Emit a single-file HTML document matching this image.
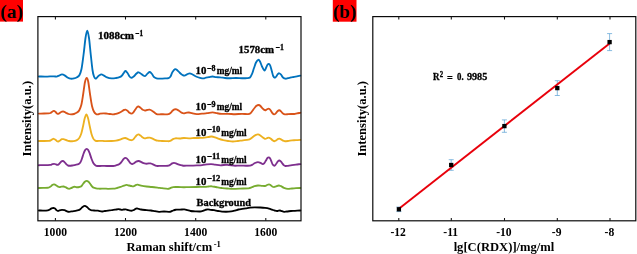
<!DOCTYPE html>
<html><head><meta charset="utf-8"><title>Figure</title>
<style>
html,body{margin:0;padding:0;background:#fff;}
body{width:637px;height:254px;overflow:hidden;}
svg{display:block;}
text{font-family:"Liberation Serif",serif;font-weight:bold;fill:#000;}
.tk{font-size:11.6px;text-anchor:middle;}
.ax{font-size:12.6px;text-anchor:middle;}
.lb{font-size:9.45px;stroke:#000;stroke-width:0.3px;}
.sup{font-size:7.5px;}
.r2{font-size:10.4px;stroke-width:0.3px;}
.sp2{font-size:8.6px;}
.pl{font-size:20px;}
</style></head><body>
<svg width="637" height="254" viewBox="0 0 637 254">
<rect width="637" height="254" fill="#fff"/>

<rect x="0" y="0" width="23.0" height="21.6" fill="#ff0000"/>
<text class="pl" x="0.5" y="17.5" style="font-size:19.6px">(a)</text>
<rect x="332.8" y="0" width="23.7" height="21.7" fill="#ff0000"/>
<text class="pl" x="333.3" y="17.6" style="font-size:19px">(b)</text>
<path d="M38.9,76.5C39.9,76.5 43.1,76.6 45.0,76.6C46.9,76.6 48.5,76.5 50.0,76.4C51.5,76.4 52.9,76.3 54.0,76.3C55.1,76.3 55.7,76.7 56.5,76.6C57.3,76.5 58.1,76.0 59.0,75.6C59.9,75.2 61.0,74.4 62.0,74.4C63.0,74.4 64.0,75.0 65.0,75.6C66.0,76.2 67.1,77.3 68.0,77.8C68.9,78.3 69.6,78.6 70.6,78.7C71.6,78.8 72.9,78.7 74.0,78.4C75.1,78.2 76.1,77.8 77.0,77.2C77.9,76.6 78.8,76.4 79.5,75.0C80.2,73.6 80.8,72.3 81.5,69.0C82.2,65.7 82.8,60.2 83.5,55.0C84.2,49.8 84.9,42.0 85.5,38.0C86.1,34.0 86.7,30.7 87.3,30.7C87.9,30.7 88.4,34.0 89.0,38.0C89.6,42.0 90.2,49.7 90.8,55.0C91.4,60.3 92.0,66.4 92.5,70.0C93.0,73.6 93.5,75.1 94.0,76.5C94.5,77.9 95.0,78.4 95.5,78.6C96.0,78.8 96.4,78.1 97.0,77.6C97.6,77.1 98.3,76.1 99.0,75.6C99.7,75.1 100.6,74.4 101.4,74.4C102.2,74.4 103.1,75.1 104.0,75.6C104.9,76.1 105.7,76.9 107.0,77.4C108.3,77.9 110.1,78.3 111.6,78.4C113.1,78.5 114.7,78.2 116.0,78.0C117.3,77.8 118.5,77.6 119.5,77.2C120.5,76.8 121.2,76.3 122.0,75.5C122.8,74.7 123.4,73.3 124.0,72.6C124.6,71.8 125.0,70.9 125.6,71.0C126.2,71.1 126.8,72.1 127.5,73.0C128.2,73.9 128.8,75.7 129.5,76.5C130.2,77.3 131.1,77.8 131.8,77.7C132.6,77.7 133.2,76.9 134.0,76.2C134.8,75.5 135.7,74.2 136.5,73.5C137.3,72.8 137.8,72.2 138.6,72.3C139.3,72.3 140.2,73.2 141.0,73.8C141.8,74.3 142.8,75.2 143.5,75.6C144.2,76.0 144.5,76.3 145.2,76.0C145.9,75.7 146.7,74.3 147.5,73.6C148.3,72.9 149.1,71.9 149.8,72.0C150.6,72.1 151.3,73.2 152.0,74.0C152.7,74.8 153.2,76.3 154.0,77.0C154.8,77.7 155.5,78.0 156.5,78.3C157.5,78.6 158.6,78.6 160.0,78.6C161.4,78.6 163.6,78.5 165.0,78.4C166.4,78.3 167.6,78.5 168.5,78.2C169.4,77.9 169.8,77.5 170.5,76.5C171.2,75.5 171.7,73.2 172.5,72.0C173.3,70.8 174.3,69.5 175.1,69.2C175.9,68.9 176.7,69.8 177.5,70.4C178.3,71.0 179.2,72.2 180.0,73.0C180.8,73.8 181.7,74.6 182.5,75.0C183.3,75.4 183.8,75.7 184.6,75.6C185.3,75.5 186.1,74.7 187.0,74.3C187.9,73.9 188.9,73.3 189.8,73.3C190.7,73.3 191.5,74.0 192.5,74.5C193.5,75.0 194.8,76.0 196.0,76.5C197.2,77.0 198.8,77.5 200.0,77.8C201.2,78.1 202.5,78.4 203.5,78.4C204.5,78.4 205.1,77.8 206.0,77.6C206.9,77.4 207.9,77.4 209.0,77.2C210.1,77.0 211.4,76.5 212.6,76.5C213.8,76.5 214.8,77.1 216.0,77.2C217.2,77.3 218.5,77.2 220.0,77.3C221.5,77.4 223.3,77.8 225.0,78.0C226.7,78.2 228.2,78.2 230.0,78.2C231.8,78.2 234.0,78.0 236.0,78.0C238.0,78.0 240.2,78.2 242.0,78.2C243.8,78.2 245.7,78.3 247.0,78.2C248.3,78.1 249.2,78.2 250.0,77.5C250.8,76.8 251.3,75.6 252.0,74.0C252.7,72.4 253.3,69.9 254.0,68.0C254.7,66.1 255.3,63.9 256.0,62.5C256.7,61.1 257.5,60.0 258.2,59.8C258.9,59.6 259.4,60.4 260.0,61.5C260.6,62.6 261.3,65.0 262.0,66.5C262.7,68.0 263.6,70.2 264.3,70.5C265.0,70.8 265.5,69.0 266.0,68.0C266.5,67.0 267.0,65.5 267.5,64.8C268.0,64.1 268.4,63.8 268.9,63.9C269.3,64.0 269.7,64.3 270.2,65.5C270.7,66.7 271.3,69.2 271.8,71.0C272.3,72.8 272.7,74.9 273.2,76.0C273.7,77.1 274.2,77.6 274.7,77.7C275.2,77.8 275.8,77.1 276.3,76.5C276.8,75.9 277.3,74.7 277.8,74.2C278.3,73.7 278.8,73.2 279.3,73.3C279.8,73.3 280.4,73.8 281.0,74.5C281.6,75.2 282.2,76.8 283.0,77.5C283.8,78.2 284.7,78.6 285.5,78.7C286.3,78.8 287.1,78.4 288.0,78.2C288.9,78.0 290.0,77.6 291.0,77.4C292.0,77.2 293.2,77.0 294.2,76.8C295.2,76.6 296.0,76.6 297.0,76.4C298.0,76.2 299.8,75.8 300.3,75.7" fill="none" stroke="#0072BD" stroke-width="1.85" stroke-linejoin="round" stroke-linecap="round"/>
<path d="M38.9,113.6C39.8,113.6 42.5,113.5 44.0,113.5C45.5,113.5 46.9,113.5 48.0,113.4C49.1,113.3 49.8,113.3 50.5,113.0C51.2,112.7 51.8,112.0 52.3,111.6C52.8,111.2 53.3,110.8 53.8,110.8C54.3,110.8 55.0,111.3 55.5,111.8C56.0,112.2 56.5,113.2 57.0,113.5C57.5,113.8 57.8,114.0 58.3,113.9C58.8,113.8 59.4,113.2 60.0,112.8C60.6,112.4 61.4,111.9 62.0,111.7C62.6,111.5 63.1,111.4 63.8,111.6C64.5,111.8 65.2,112.4 66.0,112.8C66.8,113.2 67.7,113.7 68.5,114.0C69.3,114.3 70.1,114.4 71.0,114.4C71.9,114.4 73.0,114.3 74.0,114.0C75.0,113.7 76.1,113.2 77.0,112.6C77.9,112.0 78.6,111.5 79.3,110.2C80.0,108.9 80.6,107.7 81.3,105.0C82.0,102.3 82.6,97.8 83.2,94.0C83.8,90.2 84.4,84.7 85.0,82.0C85.6,79.3 86.2,77.8 86.7,77.8C87.2,77.8 87.8,79.3 88.3,82.0C88.8,84.7 89.4,90.0 90.0,94.0C90.6,98.0 91.3,103.0 92.0,106.0C92.7,109.0 93.3,110.5 94.0,111.8C94.7,113.1 95.4,113.6 96.0,114.0C96.6,114.4 97.1,114.5 97.8,114.4C98.5,114.3 99.0,113.8 100.0,113.6C101.0,113.4 102.5,113.3 103.7,113.3C104.9,113.3 106.0,113.5 107.0,113.6C108.0,113.7 109.0,113.9 110.0,114.0C111.0,114.1 112.2,114.4 113.2,114.4C114.2,114.4 115.0,114.1 116.0,113.8C117.0,113.5 118.0,113.2 119.0,112.8C120.0,112.4 121.2,111.7 122.0,111.2C122.8,110.7 123.4,110.2 124.0,110.0C124.6,109.8 124.9,109.6 125.5,109.7C126.1,109.8 126.8,110.3 127.5,110.8C128.2,111.3 128.8,112.3 129.5,112.8C130.2,113.3 130.9,113.6 131.5,113.6C132.1,113.6 132.6,113.2 133.2,112.6C133.8,112.0 134.4,110.9 135.0,110.0C135.6,109.1 136.4,107.8 137.0,107.2C137.6,106.6 138.0,106.4 138.6,106.5C139.2,106.6 139.8,107.2 140.5,107.8C141.2,108.3 142.1,109.3 142.8,109.8C143.5,110.2 144.2,110.5 144.9,110.5C145.6,110.5 146.2,110.1 147.0,110.0C147.8,109.9 148.8,109.6 149.6,109.7C150.4,109.8 151.1,110.2 152.0,110.8C152.9,111.3 154.1,112.4 155.0,113.0C155.9,113.6 156.5,114.2 157.5,114.4C158.5,114.6 159.8,114.2 161.0,114.2C162.2,114.2 163.8,114.3 165.0,114.3C166.2,114.3 167.6,114.3 168.5,114.1C169.4,113.9 169.8,113.5 170.5,113.0C171.2,112.5 171.8,111.4 172.5,110.8C173.2,110.2 173.8,109.7 174.5,109.4C175.2,109.2 175.8,109.1 176.5,109.3C177.2,109.5 178.2,110.2 179.0,110.8C179.8,111.3 180.7,112.2 181.5,112.6C182.3,113.0 183.1,113.3 183.8,113.3C184.6,113.3 185.1,112.9 186.0,112.8C186.9,112.7 188.0,112.4 189.0,112.5C190.0,112.6 190.7,112.9 192.0,113.2C193.3,113.5 195.2,114.0 196.9,114.1C198.6,114.2 200.3,113.8 202.0,113.7C203.7,113.6 205.2,113.4 207.0,113.2C208.8,113.0 210.9,112.4 212.6,112.4C214.3,112.4 215.5,113.0 217.0,113.2C218.5,113.5 219.9,113.8 221.7,113.9C223.5,114.0 225.8,113.8 228.0,113.8C230.2,113.8 232.7,114.2 235.0,114.2C237.3,114.2 239.8,113.9 242.0,113.9C244.2,113.9 246.6,114.2 248.0,114.1C249.4,114.0 249.8,113.8 250.5,113.2C251.2,112.7 251.8,111.7 252.5,110.8C253.2,109.9 253.8,108.8 254.5,108.0C255.2,107.2 255.8,106.3 256.5,105.8C257.2,105.3 257.9,105.0 258.6,105.0C259.3,105.0 259.9,105.4 260.5,106.0C261.1,106.6 261.8,107.7 262.5,108.4C263.2,109.1 264.1,110.0 264.8,110.2C265.5,110.4 265.9,109.9 266.5,109.6C267.1,109.3 268.1,108.6 268.7,108.6C269.3,108.6 269.8,109.1 270.3,109.8C270.9,110.5 271.4,111.8 272.0,112.6C272.6,113.4 273.4,114.3 274.0,114.4C274.6,114.5 275.2,113.9 275.8,113.4C276.4,112.9 276.9,111.7 277.5,111.2C278.1,110.7 278.6,110.2 279.2,110.2C279.8,110.2 280.4,110.7 281.0,111.3C281.6,111.9 282.3,113.1 283.0,113.6C283.7,114.1 284.2,114.3 285.0,114.4C285.8,114.5 287.0,114.3 288.0,114.2C289.0,114.1 290.0,114.0 291.0,114.0C292.0,114.0 293.2,114.1 294.2,114.0C295.2,113.9 296.0,113.6 297.0,113.4C298.0,113.2 299.8,112.9 300.3,112.8" fill="none" stroke="#D95319" stroke-width="1.85" stroke-linejoin="round" stroke-linecap="round"/>
<path d="M38.9,141.0C39.8,141.0 42.3,141.0 44.0,141.0C45.7,141.0 47.8,141.0 49.0,140.9C50.2,140.8 50.4,140.5 51.0,140.2C51.6,139.9 52.0,139.4 52.5,139.2C53.0,139.0 53.3,138.7 53.8,138.8C54.3,138.9 55.0,139.4 55.5,139.8C56.0,140.2 56.5,140.9 57.0,141.2C57.5,141.5 57.7,141.6 58.2,141.5C58.7,141.4 59.4,140.8 60.0,140.4C60.6,140.0 61.4,139.4 62.0,139.2C62.6,139.0 62.8,139.0 63.5,139.1C64.2,139.2 65.1,139.7 66.0,140.0C66.9,140.3 68.0,140.8 69.0,141.0C70.0,141.2 71.2,141.2 72.2,141.2C73.2,141.2 74.1,141.0 75.0,140.8C75.9,140.6 76.8,140.3 77.5,139.8C78.2,139.3 78.9,138.7 79.5,137.6C80.1,136.5 80.7,135.3 81.3,133.5C81.9,131.7 82.4,129.1 83.0,126.5C83.6,123.9 84.2,120.0 84.8,118.0C85.4,116.0 85.9,114.4 86.4,114.4C86.9,114.4 87.4,116.0 88.0,118.0C88.6,120.0 89.2,123.8 89.8,126.5C90.4,129.2 90.9,132.0 91.5,134.0C92.1,136.0 92.7,137.5 93.3,138.6C93.9,139.7 94.6,140.2 95.3,140.6C96.0,141.0 96.5,141.0 97.4,141.0C98.4,141.0 99.7,140.8 101.0,140.8C102.3,140.8 103.2,141.1 105.0,141.1C106.8,141.1 109.8,141.1 111.6,141.0C113.4,140.9 114.6,140.8 116.0,140.6C117.4,140.4 118.8,140.0 120.0,139.6C121.2,139.2 122.1,138.7 123.0,138.4C123.9,138.1 124.5,137.9 125.3,138.0C126.0,138.1 126.8,138.5 127.5,138.8C128.2,139.1 128.8,139.6 129.5,139.8C130.2,140.0 130.9,140.3 131.5,140.2C132.1,140.1 132.7,139.9 133.3,139.4C133.9,138.9 134.6,137.7 135.2,137.0C135.8,136.3 136.4,135.4 137.0,135.0C137.6,134.6 138.0,134.3 138.6,134.4C139.2,134.5 139.8,135.1 140.5,135.6C141.2,136.1 142.1,137.1 142.8,137.6C143.5,138.1 144.2,138.3 144.9,138.3C145.6,138.3 146.2,137.9 147.0,137.8C147.8,137.7 148.8,137.5 149.6,137.6C150.4,137.7 151.1,138.0 152.0,138.4C152.9,138.8 154.1,139.4 155.0,139.8C155.9,140.2 156.3,140.5 157.5,140.7C158.7,140.9 160.6,140.9 162.0,141.0C163.4,141.1 164.8,141.1 166.0,141.1C167.2,141.1 168.4,141.3 169.3,141.2C170.2,141.0 170.8,140.6 171.5,140.2C172.2,139.8 172.8,139.1 173.5,138.8C174.2,138.5 174.4,138.4 175.5,138.3C176.6,138.2 178.6,138.6 180.0,138.5C181.4,138.4 182.5,138.0 184.0,138.0C185.5,138.0 187.3,138.3 189.0,138.3C190.7,138.3 192.3,138.1 194.0,138.0C195.7,137.9 197.2,138.1 199.0,138.0C200.8,137.9 203.1,137.8 204.7,137.6C206.3,137.4 207.3,137.2 208.5,137.0C209.7,136.8 210.7,136.4 211.8,136.5C212.9,136.6 213.8,137.0 215.0,137.4C216.2,137.8 217.6,138.4 219.0,138.9C220.4,139.4 221.8,139.8 223.3,140.2C224.8,140.5 226.4,140.8 228.0,141.0C229.6,141.2 231.1,141.5 232.8,141.5C234.5,141.5 236.3,141.2 238.0,141.0C239.7,140.8 241.2,140.5 243.0,140.3C244.8,140.1 247.2,139.9 248.5,139.6C249.8,139.3 250.2,138.9 251.0,138.4C251.8,137.9 252.7,137.0 253.5,136.4C254.3,135.8 255.2,135.1 256.0,134.8C256.8,134.5 257.3,134.3 258.0,134.4C258.7,134.5 259.2,134.7 260.0,135.2C260.8,135.7 261.7,136.6 262.5,137.2C263.3,137.8 264.2,138.6 265.0,138.8C265.8,139.0 266.4,138.4 267.0,138.2C267.6,138.0 268.1,137.6 268.7,137.6C269.3,137.6 269.9,138.0 270.5,138.4C271.1,138.8 271.8,139.7 272.5,140.2C273.2,140.7 273.9,141.2 274.5,141.2C275.1,141.2 275.6,140.8 276.2,140.4C276.8,140.1 277.3,139.4 277.8,139.1C278.3,138.8 278.7,138.6 279.2,138.7C279.7,138.8 280.4,139.1 281.0,139.4C281.6,139.7 282.4,140.4 283.0,140.7C283.6,141.0 283.9,141.1 284.7,141.2C285.5,141.2 286.8,141.1 288.0,141.0C289.2,140.9 290.7,140.5 292.0,140.4C293.3,140.3 294.6,140.3 296.0,140.2C297.4,140.1 299.6,139.9 300.3,139.9" fill="none" stroke="#EDB120" stroke-width="1.85" stroke-linejoin="round" stroke-linecap="round"/>
<path d="M38.9,165.2C39.8,165.2 42.1,165.1 44.0,165.1C45.9,165.1 48.8,165.1 50.2,164.9C51.6,164.8 51.6,164.4 52.2,164.2C52.9,164.0 53.5,163.8 54.1,163.8C54.7,163.8 55.5,164.2 56.0,164.4C56.5,164.6 56.8,164.9 57.3,164.9C57.8,164.9 58.3,164.6 58.8,164.2C59.3,163.8 60.0,162.9 60.5,162.4C61.0,161.9 61.6,161.4 62.0,161.2C62.4,161.0 62.5,160.9 62.9,161.0C63.3,161.1 63.8,161.3 64.3,161.8C64.8,162.3 65.4,163.2 66.0,163.8C66.6,164.4 67.2,165.0 67.8,165.3C68.4,165.6 68.8,165.7 69.5,165.7C70.2,165.7 71.0,165.7 72.0,165.5C73.0,165.3 74.4,165.0 75.5,164.8C76.6,164.6 77.7,164.5 78.5,164.1C79.3,163.7 79.7,163.5 80.3,162.6C80.9,161.7 81.5,160.0 82.0,158.5C82.5,157.0 83.1,154.9 83.6,153.5C84.1,152.1 84.7,150.8 85.2,150.0C85.7,149.2 86.2,148.9 86.7,148.9C87.2,148.9 87.7,149.2 88.2,150.0C88.7,150.8 89.2,152.1 89.8,153.6C90.3,155.1 90.9,157.2 91.5,158.8C92.1,160.4 92.7,161.9 93.3,163.0C93.9,164.1 94.6,164.7 95.3,165.2C96.0,165.7 96.3,165.9 97.4,166.0C98.5,166.1 100.4,165.9 102.0,165.9C103.6,165.9 105.1,166.0 107.0,166.0C108.9,166.0 111.7,166.1 113.2,166.0C114.7,165.9 115.0,165.7 116.0,165.4C117.0,165.1 118.5,164.8 119.5,164.1C120.5,163.4 121.1,162.4 121.8,161.5C122.5,160.6 123.1,159.4 123.7,158.8C124.3,158.2 124.9,157.8 125.4,157.8C126.0,157.8 126.4,158.1 127.0,158.6C127.6,159.1 128.2,160.2 128.8,161.0C129.4,161.8 130.1,162.9 130.7,163.4C131.3,163.9 131.8,164.1 132.3,164.1C132.9,164.1 133.3,163.6 134.0,163.2C134.7,162.8 135.4,162.0 136.2,161.6C137.0,161.2 137.8,160.9 138.6,161.0C139.4,161.1 140.2,161.5 141.0,161.9C141.8,162.3 142.7,162.9 143.5,163.2C144.3,163.5 144.9,163.6 145.7,163.7C146.4,163.8 147.2,163.6 148.0,163.5C148.8,163.4 149.6,163.2 150.4,163.4C151.2,163.6 152.2,164.0 153.0,164.4C153.8,164.8 154.8,165.3 155.5,165.6C156.2,165.9 156.4,166.0 157.5,166.0C158.6,166.0 160.6,165.8 162.0,165.8C163.4,165.8 164.9,165.9 166.0,165.9C167.1,165.9 167.8,165.9 168.5,165.7C169.2,165.5 169.7,165.2 170.3,164.8C170.9,164.4 171.6,163.6 172.2,163.3C172.8,163.0 173.4,162.9 174.0,162.9C174.6,162.9 175.2,163.1 176.0,163.4C176.8,163.7 178.0,164.3 179.0,164.6C180.0,164.9 181.1,165.2 182.0,165.4C182.9,165.6 183.0,165.7 184.3,165.7C185.6,165.7 187.9,165.6 190.0,165.6C192.1,165.6 194.9,165.5 196.9,165.4C198.9,165.3 200.3,165.3 202.0,165.1C203.7,164.9 205.5,164.6 207.0,164.4C208.5,164.2 209.7,164.1 211.0,164.1C212.3,164.1 213.4,164.4 215.0,164.6C216.6,164.8 218.7,165.4 220.5,165.4C222.3,165.4 224.6,164.7 226.0,164.7C227.4,164.7 227.7,165.0 229.0,165.2C230.3,165.4 232.2,165.6 234.0,165.7C235.8,165.8 238.0,165.6 240.0,165.6C242.0,165.6 244.3,165.7 246.0,165.7C247.7,165.7 248.9,165.8 250.0,165.6C251.1,165.4 251.7,165.0 252.5,164.6C253.3,164.2 254.1,163.4 255.0,163.0C255.9,162.6 257.1,162.1 258.0,162.1C258.9,162.1 259.7,162.6 260.5,162.9C261.3,163.2 262.1,164.1 262.7,164.1C263.3,164.1 263.8,163.8 264.3,163.2C264.8,162.6 265.3,161.6 265.8,160.8C266.3,160.0 266.8,158.8 267.3,158.2C267.8,157.6 268.2,157.4 268.7,157.4C269.1,157.4 269.6,157.7 270.0,158.3C270.4,158.9 270.9,160.2 271.3,161.2C271.7,162.2 272.2,163.6 272.6,164.3C273.1,165.1 273.5,165.6 274.0,165.7C274.5,165.8 275.0,165.3 275.5,164.8C276.0,164.3 276.5,163.2 277.0,162.6C277.5,161.9 277.9,161.2 278.3,160.9C278.7,160.6 278.9,160.4 279.3,160.5C279.7,160.6 280.3,160.9 280.8,161.4C281.3,161.9 282.0,162.9 282.5,163.6C283.0,164.3 283.5,165.0 284.0,165.4C284.5,165.8 284.8,165.9 285.5,166.0C286.2,166.1 286.9,165.9 288.0,165.8C289.1,165.7 290.7,165.4 292.0,165.2C293.3,165.0 294.6,164.8 296.0,164.6C297.4,164.4 299.6,164.2 300.3,164.1" fill="none" stroke="#7E2F8E" stroke-width="1.85" stroke-linejoin="round" stroke-linecap="round"/>
<path d="M38.9,188.0C39.6,188.0 41.4,188.0 43.0,187.9C44.6,187.8 47.4,187.8 48.6,187.6C49.9,187.4 49.9,187.0 50.5,186.6C51.1,186.2 51.7,185.4 52.3,185.0C52.9,184.6 53.5,184.3 54.1,184.4C54.7,184.5 55.4,184.9 56.0,185.3C56.6,185.7 57.4,186.4 58.0,186.7C58.6,187.0 59.0,187.1 59.6,187.1C60.2,187.1 60.8,186.8 61.5,186.7C62.2,186.6 62.9,186.4 63.6,186.5C64.3,186.6 64.8,186.9 65.5,187.2C66.2,187.5 66.9,188.1 67.5,188.4C68.1,188.7 68.5,188.8 69.1,188.8C69.7,188.8 70.2,188.5 71.0,188.2C71.8,187.9 72.9,187.0 73.8,186.8C74.7,186.6 75.6,187.2 76.5,187.2C77.4,187.2 78.5,187.2 79.3,187.0C80.1,186.8 80.7,186.7 81.3,186.2C81.9,185.7 82.4,184.7 83.0,184.0C83.6,183.3 84.2,182.3 84.8,181.8C85.4,181.3 86.1,180.8 86.7,180.8C87.3,180.8 87.9,181.3 88.5,181.8C89.1,182.3 89.7,183.2 90.3,184.0C90.9,184.8 91.5,185.8 92.0,186.4C92.5,187.0 92.8,187.3 93.5,187.6C94.2,187.9 95.1,188.1 96.0,188.3C96.9,188.5 97.7,188.6 99.0,188.7C100.3,188.8 102.5,188.6 104.0,188.6C105.5,188.6 106.5,188.8 108.0,188.8C109.5,188.8 111.7,188.8 113.2,188.7C114.7,188.6 115.8,188.3 117.0,188.0C118.2,187.7 119.3,187.3 120.5,186.9C121.7,186.5 123.0,185.9 124.0,185.6C125.0,185.3 125.8,184.9 126.6,184.9C127.4,184.9 128.2,185.3 129.0,185.5C129.8,185.7 130.7,185.8 131.3,186.0C131.9,186.2 132.3,186.4 132.8,186.4C133.3,186.4 133.9,186.1 134.5,185.8C135.1,185.6 135.6,185.1 136.2,184.9C136.8,184.7 137.0,184.6 137.8,184.7C138.6,184.8 139.6,185.3 141.0,185.6C142.4,185.9 144.7,186.3 146.5,186.5C148.3,186.7 150.2,186.8 152.0,187.0C153.8,187.2 155.8,187.4 157.5,187.6C159.2,187.8 160.3,188.0 162.0,188.2C163.7,188.4 166.3,188.8 167.7,188.8C169.1,188.8 169.6,188.3 170.5,188.0C171.4,187.7 171.9,187.3 173.2,187.1C174.4,186.9 176.2,187.0 178.0,187.0C179.8,187.0 182.2,187.2 184.0,187.2C185.8,187.2 187.0,187.1 189.0,187.1C191.0,187.1 193.4,187.1 196.0,187.0C198.6,186.9 202.6,186.9 204.7,186.8C206.8,186.7 207.3,186.6 208.5,186.5C209.7,186.4 210.6,186.2 211.8,186.3C213.1,186.4 214.3,186.7 216.0,187.0C217.7,187.3 219.9,187.8 221.7,188.0C223.5,188.2 225.2,188.4 227.0,188.5C228.8,188.6 230.6,188.8 232.8,188.8C235.0,188.8 237.4,188.7 240.0,188.6C242.6,188.5 246.6,188.5 248.5,188.3C250.4,188.1 250.5,187.8 251.5,187.4C252.5,187.1 253.4,186.5 254.5,186.2C255.6,185.9 256.8,185.6 258.0,185.5C259.2,185.4 260.3,185.7 261.5,185.8C262.7,185.9 264.1,186.1 265.0,186.0C265.9,185.9 266.3,185.3 267.0,185.0C267.7,184.7 268.4,184.4 269.0,184.4C269.6,184.4 270.1,184.8 270.7,185.2C271.3,185.6 271.9,186.3 272.5,186.6C273.1,186.9 273.4,187.1 274.0,187.1C274.6,187.1 275.2,186.7 276.0,186.4C276.8,186.1 278.0,185.5 278.8,185.5C279.6,185.5 280.1,185.8 281.0,186.2C281.9,186.6 282.9,187.4 284.0,187.8C285.1,188.2 286.6,188.7 287.9,188.8C289.2,188.9 290.6,188.6 292.0,188.5C293.4,188.4 294.6,188.3 296.0,188.2C297.4,188.1 299.6,188.0 300.3,188.0" fill="none" stroke="#77AC30" stroke-width="1.85" stroke-linejoin="round" stroke-linecap="round"/>
<path d="M38.9,210.5C39.6,210.5 41.5,210.6 43.0,210.6C44.5,210.6 46.7,210.6 47.8,210.4C48.9,210.2 49.2,209.9 49.8,209.6C50.4,209.2 51.0,208.6 51.6,208.3C52.2,208.0 52.7,207.8 53.3,207.8C53.9,207.9 54.4,208.2 55.0,208.6C55.6,209.0 56.2,210.0 56.7,210.4C57.2,210.8 57.5,211.0 58.0,211.0C58.5,211.0 58.8,210.5 59.5,210.3C60.2,210.1 61.2,209.9 62.0,209.9C62.8,209.9 63.7,210.0 64.5,210.2C65.3,210.4 66.2,211.0 67.0,211.3C67.8,211.6 68.3,211.8 69.1,211.8C69.9,211.8 70.9,211.6 72.0,211.4C73.1,211.2 74.4,211.1 75.5,210.9C76.6,210.7 77.7,210.5 78.5,210.2C79.3,209.9 79.8,209.5 80.5,209.0C81.2,208.5 81.8,207.5 82.5,207.0C83.2,206.5 84.0,205.9 84.8,205.9C85.5,205.9 86.3,206.5 87.0,207.0C87.7,207.5 88.3,208.5 89.0,209.0C89.7,209.5 90.3,209.9 91.1,210.2C91.9,210.4 92.8,210.4 94.0,210.5C95.2,210.6 96.7,210.5 98.0,210.7C99.3,210.9 100.9,211.4 102.1,211.5C103.3,211.6 104.0,211.2 105.0,211.0C106.0,210.8 106.9,210.7 108.0,210.6C109.1,210.5 110.4,210.3 111.6,210.2C112.8,210.0 113.8,209.9 115.0,209.7C116.2,209.5 117.8,209.1 118.7,209.1C119.6,209.1 119.8,209.4 120.3,209.5C120.8,209.6 121.2,209.9 121.8,209.9C122.4,209.9 123.1,209.6 123.8,209.5C124.5,209.4 125.0,209.3 125.8,209.4C126.6,209.5 127.6,210.0 128.5,210.2C129.4,210.4 130.5,210.7 131.3,210.7C132.1,210.7 132.7,210.4 133.5,210.1C134.3,209.8 135.2,208.8 136.0,208.6C136.8,208.4 137.2,208.5 138.0,208.7C138.8,208.8 139.6,209.2 141.0,209.5C142.4,209.8 144.8,210.0 146.5,210.2C148.2,210.4 149.6,210.3 151.0,210.5C152.4,210.7 153.7,211.0 155.0,211.2C156.3,211.4 157.5,211.8 159.0,211.8C160.5,211.9 162.3,211.5 164.0,211.5C165.7,211.5 168.0,211.9 169.3,211.8C170.6,211.7 171.1,211.3 172.0,211.0C172.9,210.7 173.8,210.2 174.5,210.0C175.2,209.8 175.5,209.8 176.4,209.7C177.3,209.6 178.7,209.6 180.0,209.6C181.3,209.6 183.1,209.3 184.3,209.4C185.6,209.5 186.4,209.9 187.5,210.2C188.6,210.5 189.3,210.8 190.6,211.0C191.8,211.2 193.4,211.2 195.0,211.3C196.6,211.4 198.7,211.6 200.0,211.5C201.3,211.4 202.1,211.1 203.0,210.8C203.9,210.5 204.7,210.0 205.5,209.8C206.3,209.6 207.0,209.4 207.9,209.4C208.8,209.4 209.9,209.8 211.0,209.9C212.1,210.0 213.0,210.0 214.2,210.2C215.4,210.4 216.7,210.8 218.0,211.0C219.3,211.2 220.7,211.5 222.0,211.6C223.3,211.7 224.5,211.7 226.0,211.7C227.5,211.7 229.7,211.6 231.2,211.4C232.7,211.2 233.8,210.9 235.0,210.6C236.2,210.3 237.3,209.8 238.5,209.5C239.7,209.2 240.9,209.1 242.2,208.9C243.4,208.7 244.7,208.5 246.0,208.3C247.3,208.1 248.5,207.8 250.0,207.7C251.5,207.5 253.1,207.4 254.8,207.4C256.5,207.4 258.3,207.4 260.0,207.5C261.7,207.6 263.5,207.7 265.0,207.9C266.5,208.1 267.8,208.3 269.0,208.6C270.2,208.9 271.1,209.3 272.0,209.6C272.9,209.9 273.7,210.3 274.5,210.5C275.3,210.7 276.2,211.0 276.9,211.0C277.6,211.0 278.0,210.8 278.5,210.7C279.0,210.6 279.4,210.4 280.0,210.5C280.6,210.6 281.3,211.0 282.0,211.2C282.7,211.4 283.2,211.8 284.0,211.8C284.8,211.9 285.8,211.6 287.0,211.5C288.2,211.4 289.7,211.1 291.0,211.0C292.3,210.9 293.4,210.9 295.0,210.8C296.6,210.7 299.4,210.6 300.3,210.5" fill="none" stroke="#000000" stroke-width="1.85" stroke-linejoin="round" stroke-linecap="round"/>
<rect x="37.9" y="16.6" width="263.1" height="204.2" fill="none" stroke="#0a0a0a" stroke-width="1.2"/>
<path d="M55.4,220.75v-2.8M55.4,16.6v2.8M125.5,220.75v-2.8M125.5,16.6v2.8M195.7,220.75v-2.8M195.7,16.6v2.8M265.8,220.75v-2.8M265.8,16.6v2.8" stroke="#111" stroke-width="1.05" fill="none"/>
<text class="tk" x="55.4" y="235.9">1000</text>
<text class="tk" x="125.5" y="235.9">1200</text>
<text class="tk" x="195.7" y="235.9">1400</text>
<text class="tk" x="265.8" y="235.9">1600</text>
<text class="ax" x="173.7" y="250.6">Raman shift/cm<tspan class="sp2" dy="-3.8" dx="1.5">-1</tspan></text>
<text class="ax" transform="translate(30.9,118.7) rotate(-90)">Intensity(a.u.)</text>
<text class="lb" y="39.0"><tspan x="97.9" dy="0" textLength="36.1" lengthAdjust="spacingAndGlyphs">1088cm</tspan><tspan class="sup" x="135.3" dy="-3.3" textLength="7.7" lengthAdjust="spacingAndGlyphs">−1</tspan></text>
<text class="lb" y="53.0"><tspan x="238.6" dy="0" textLength="35.4" lengthAdjust="spacingAndGlyphs">1578cm</tspan><tspan class="sup" x="275.5" dy="-3.3" textLength="8.3" lengthAdjust="spacingAndGlyphs">−1</tspan></text>
<text class="lb" y="74.4"><tspan x="195.6" dy="0" textLength="10.8" lengthAdjust="spacingAndGlyphs">10</tspan><tspan class="sup" x="207.0" dy="-3.3" textLength="8.5" lengthAdjust="spacingAndGlyphs">−8</tspan><tspan x="216.8" dy="3.3" textLength="25.3" lengthAdjust="spacingAndGlyphs">mg/ml</tspan></text>
<text class="lb" y="110.3"><tspan x="195.6" dy="0" textLength="10.8" lengthAdjust="spacingAndGlyphs">10</tspan><tspan class="sup" x="206.9" dy="-3.3" textLength="8.6" lengthAdjust="spacingAndGlyphs">−9</tspan><tspan x="216.8" dy="3.3" textLength="25.3" lengthAdjust="spacingAndGlyphs">mg/ml</tspan></text>
<text class="lb" y="135.6"><tspan x="195.6" dy="0" textLength="10.8" lengthAdjust="spacingAndGlyphs">10</tspan><tspan class="sup" x="206.9" dy="-3.3" textLength="13.5" lengthAdjust="spacingAndGlyphs">−10</tspan><tspan x="221.3" dy="3.3" textLength="25.3" lengthAdjust="spacingAndGlyphs">mg/ml</tspan></text>
<text class="lb" y="162.6"><tspan x="195.6" dy="0" textLength="10.8" lengthAdjust="spacingAndGlyphs">10</tspan><tspan class="sup" x="206.9" dy="-3.3" textLength="13.3" lengthAdjust="spacingAndGlyphs">−11</tspan><tspan x="221.3" dy="3.3" textLength="25.3" lengthAdjust="spacingAndGlyphs">mg/ml</tspan></text>
<text class="lb" y="184.6"><tspan x="195.6" dy="0" textLength="10.8" lengthAdjust="spacingAndGlyphs">10</tspan><tspan class="sup" x="206.9" dy="-3.3" textLength="13.5" lengthAdjust="spacingAndGlyphs">−12</tspan><tspan x="221.3" dy="3.3" textLength="25.3" lengthAdjust="spacingAndGlyphs">mg/ml</tspan></text>
<text class="lb" style="font-size:10.1px" y="206.2"><tspan x="196.6" dy="0" textLength="54.4" lengthAdjust="spacingAndGlyphs">Background</tspan></text>
<path d="M398.9,207.0V211.6M396.4,207.0h5M396.4,211.6h5M451.2,159.7V170.3M448.7,159.7h5M448.7,170.3h5M504.4,119.9V132.3M501.9,119.9h5M501.9,132.3h5M557.3,80.7V95.5M554.8,80.7h5M554.8,95.5h5M609.6,33.6V50.6M607.1,33.6h5M607.1,50.6h5" stroke="#6aa9d8" stroke-width="0.8" fill="none"/>
<path d="M398.9,208.7L609.6,43.4" stroke="#e8000b" stroke-width="1.9" fill="none"/>
<rect x="396.75" y="207.15" width="4.3" height="4.3" fill="#000"/>
<rect x="449.05" y="162.85" width="4.3" height="4.3" fill="#000"/>
<rect x="502.25" y="123.95" width="4.3" height="4.3" fill="#000"/>
<rect x="555.15" y="85.95" width="4.3" height="4.3" fill="#000"/>
<rect x="607.45" y="39.95" width="4.3" height="4.3" fill="#000"/>
<rect x="372.8" y="16.6" width="263.0" height="204.2" fill="none" stroke="#0a0a0a" stroke-width="1.2"/>
<path d="M398.8,220.75v-2.8M398.8,16.6v2.8M451.3,220.75v-2.8M451.3,16.6v2.8M504.5,220.75v-2.8M504.5,16.6v2.8M557.3,220.75v-2.8M557.3,16.6v2.8M610.0,220.75v-2.8M610.0,16.6v2.8" stroke="#111" stroke-width="1.05" fill="none"/>
<text class="tk" x="398.2" y="235.9">-12</text>
<text class="tk" x="450.7" y="235.9">-11</text>
<text class="tk" x="503.9" y="235.9">-10</text>
<text class="tk" x="556.7" y="235.9">-9</text>
<text class="tk" x="609.4" y="235.9">-8</text>
<text class="ax" x="504" y="251.1">lg[C(RDX)]/mg/ml</text>
<text class="ax" transform="translate(365.8,118.8) rotate(-90)">Intensity(a.u.)</text>
<text class="lb r2" y="79.9"><tspan x="432.9" textLength="6.5" lengthAdjust="spacingAndGlyphs">R</tspan><tspan x="439.8" dy="-3.1" textLength="3.4" lengthAdjust="spacingAndGlyphs" style="font-size:8.6px">2</tspan><tspan x="446.8" dy="5.0" textLength="6.3" lengthAdjust="spacingAndGlyphs" style="stroke:none;font-size:11.5px">=</tspan><tspan x="457.0" dy="-1.9" textLength="6.6" lengthAdjust="spacingAndGlyphs">0.</tspan><tspan x="466.9" textLength="20.4" lengthAdjust="spacingAndGlyphs">9985</tspan></text>
</svg></body></html>
